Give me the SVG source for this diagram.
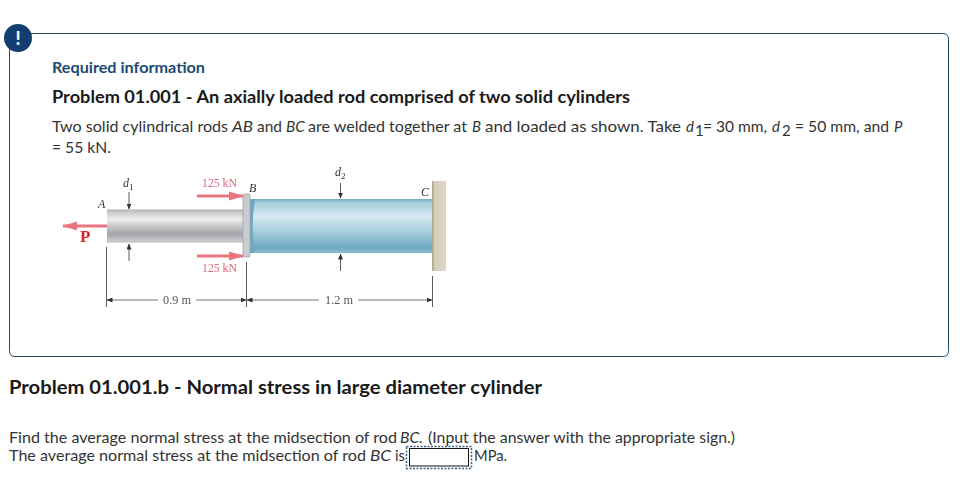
<svg xmlns="http://www.w3.org/2000/svg" width="968" height="488" viewBox="0 0 968 488">
<style>
.s{font-family:Lato,"Open Sans","Liberation Sans",sans-serif}
.h{font-weight:700;fill:#1a1a1a}
.b{font-family:Lato,"Open Sans","Liberation Sans",sans-serif;font-size:15px;fill:#333}
.i{font-style:italic}
.f{font-family:"Liberation Serif",serif;font-size:12px;fill:#555}
.p{font-family:"Liberation Serif",serif;font-size:12px;fill:#d9657c}
.l{font-family:"Liberation Serif",serif;font-style:italic;font-size:12px;fill:#333}
.d{stroke:#333;stroke-width:.8;fill:none}
.dg{stroke:#666;stroke-width:.9;fill:none}
</style>
<defs>
<filter id="soft" x="-5%" y="-5%" width="110%" height="110%"><feGaussianBlur stdDeviation=".35"/></filter>
<linearGradient id="g1" x1="0" y1="0" x2="0" y2="1">
<stop offset="0" stop-color="#aeb0b2"/><stop offset=".08" stop-color="#c8cacc"/><stop offset=".3" stop-color="#ecedee"/><stop offset=".55" stop-color="#bfc1c3"/><stop offset=".75" stop-color="#a4a6a9"/><stop offset=".95" stop-color="#c8cacc"/><stop offset="1" stop-color="#b4b6b8"/>
</linearGradient>
<linearGradient id="g2" x1="0" y1="0" x2="0" y2="1">
<stop offset="0" stop-color="#76a9c0"/><stop offset=".07" stop-color="#a8cede"/><stop offset=".32" stop-color="#d6e8f0"/><stop offset=".6" stop-color="#a9cedd"/><stop offset=".9" stop-color="#6ea8c1"/><stop offset="1" stop-color="#8fbdd1"/>
</linearGradient>
<linearGradient id="g3" x1="0" y1="0" x2="1" y2="0">
<stop offset="0" stop-color="#a9a28c"/><stop offset=".2" stop-color="#d6cfbb"/><stop offset="1" stop-color="#dcd6c5"/>
</linearGradient>
<marker id="k" markerWidth="6" markerHeight="5" refX="5.500" refY="2.500" orient="auto-start-reverse" markerUnits="userSpaceOnUse"><path d="M0 0L6 2.500L0 5Z" fill="#333"/></marker>
<marker id="r" markerWidth="15" markerHeight="10" refX="14" refY="5" orient="auto" markerUnits="userSpaceOnUse"><path d="M0 .5L15 5L0 9.500Z" fill="#ea7480"/></marker>
</defs>
<rect width="968" height="488" fill="#fff"/>
<g id="panel">
<rect x="9.500" y="33.500" width="939" height="323" rx="5" fill="#fff" stroke="#1f4a70" stroke-width="1"/>
<circle cx="18" cy="38" r="14" fill="#123f70"/>
<text class="s" x="18" y="44.500" text-anchor="middle" font-size="18" font-weight="900" fill="#fff">!</text>
</g>
<g id="heading">
<text class="s" x="52" y="73" font-size="15" font-weight="700" fill="#1c4a73" textLength="153" lengthAdjust="spacingAndGlyphs">Required information</text>
<text class="s h" x="52" y="103" font-size="16.500" textLength="578" lengthAdjust="spacingAndGlyphs">Problem 01.001 - An axially loaded rod comprised of two solid cylinders</text>
<text class="b" x="52" y="132" textLength="176" lengthAdjust="spacingAndGlyphs">Two solid cylindrical rods</text>
<text class="b i" x="232" y="132" textLength="21" lengthAdjust="spacingAndGlyphs">AB</text>
<text class="b" x="257" y="132" textLength="25" lengthAdjust="spacingAndGlyphs">and</text>
<text class="b i" x="286" y="132" textLength="19" lengthAdjust="spacingAndGlyphs">BC</text>
<text class="b" x="308" y="132" textLength="159" lengthAdjust="spacingAndGlyphs">are welded together at</text>
<text class="b i" x="472" y="132" textLength="9" lengthAdjust="spacingAndGlyphs">B</text>
<text class="b" x="485" y="132" textLength="196" lengthAdjust="spacingAndGlyphs">and loaded as shown. Take</text>
<text class="b i" x="686" y="132" font-size="16">d</text>
<text class="b" x="695" y="136">1</text>
<text class="b" x="703" y="132" textLength="64" lengthAdjust="spacingAndGlyphs">= 30 mm,</text>
<text class="b i" x="772" y="132" font-size="16">d</text>
<text class="b" x="782" y="136">2</text>
<text class="b" x="795" y="132" textLength="94" lengthAdjust="spacingAndGlyphs">= 50 mm, and</text>
<text class="b i" x="894" y="132">P</text>
<text class="b" x="52" y="153" textLength="59" lengthAdjust="spacingAndGlyphs">= 55 kN.</text>
</g>
<g filter="url(#soft)">
<g id="rod-ab"><rect x="107" y="209.500" width="136" height="33" fill="url(#g1)"/></g>
<g id="rod-bc">
<rect x="250" y="199" width="182" height="54" fill="url(#g2)"/>
<path d="M250 199V253H255Q250.500 226 255 199Z" fill="#6ea8c1"/>
</g>
<g id="flange"><rect x="243" y="194" width="7" height="63" rx="1" fill="#c9cdcf" stroke="#a0a5a8" stroke-width=".8"/></g>
<g id="wall"><rect x="432" y="181" width="14" height="90" fill="url(#g3)"/></g>
<g id="connectors">
<path d="M107 226H63" stroke="#ea7480" stroke-width="3" marker-end="url(#r)"/>
<path d="M197 196H243" stroke="#ea7480" stroke-width="3" marker-end="url(#r)"/>
<path d="M197 256H243" stroke="#ea7480" stroke-width="3" marker-end="url(#r)"/>
<path class="d" d="M129 192V209" marker-end="url(#k)"/>
<path class="d" d="M129 261V244" marker-end="url(#k)"/>
<path class="d" d="M340.500 183V198" marker-end="url(#k)"/>
<path class="d" d="M340.500 271V254" marker-end="url(#k)"/>
<path class="d" d="M106.500 247V307M246.500 262V307M432.500 276V307"/>
<path class="dg" d="M107 300H158" marker-start="url(#k)"/>
<path class="dg" d="M196 300H246" marker-end="url(#k)"/>
<path class="dg" d="M247 300H319" marker-start="url(#k)"/>
<path class="dg" d="M358 300H432" marker-end="url(#k)"/>
</g>
<g id="labels">
<text class="l" x="123" y="187" font-size="14">d<tspan dy="2.500" font-size="9" font-style="normal">1</tspan></text>
<text class="l" x="335" y="176" font-size="14">d<tspan dy="2.500" font-size="9" font-style="normal">2</tspan></text>
<text class="l" x="98" y="208">A</text>
<text class="l" x="249" y="192">B</text>
<text class="l" x="421" y="196">C</text>
<text x="80" y="242" font-family="Liberation Serif,serif" font-weight="700" font-size="17" fill="#d8232f">P</text>
<text class="p" x="202" y="187" textLength="35" lengthAdjust="spacingAndGlyphs">125 kN</text>
<text class="p" x="202" y="272" textLength="35" lengthAdjust="spacingAndGlyphs">125 kN</text>
<text class="f" x="163" y="303.500" textLength="28" lengthAdjust="spacingAndGlyphs">0.9 m</text>
<text class="f" x="325" y="303.500" textLength="28" lengthAdjust="spacingAndGlyphs">1.2 m</text>
</g>
</g>
<g id="question">
<text class="s h" x="9" y="394" font-size="18.500" textLength="533" lengthAdjust="spacingAndGlyphs">Problem 01.001.b - Normal stress in large diameter cylinder</text>
<text class="b" x="9" y="443" textLength="388" lengthAdjust="spacingAndGlyphs">Find the average normal stress at the midsection of rod</text>
<text class="b i" x="400" y="443" textLength="23" lengthAdjust="spacingAndGlyphs">BC.</text>
<text class="b" x="428" y="443" textLength="307" lengthAdjust="spacingAndGlyphs">(Input the answer with the appropriate sign.)</text>
<text class="b" x="9" y="461" textLength="357" lengthAdjust="spacingAndGlyphs">The average normal stress at the midsection of rod</text>
<text class="b i" x="370" y="461" textLength="21" lengthAdjust="spacingAndGlyphs">BC</text>
<text class="b" x="395" y="461" textLength="10" lengthAdjust="spacingAndGlyphs">is</text>
<rect x="406.500" y="446.500" width="65" height="22" fill="none" stroke="#3b6186" stroke-width="1.500" stroke-dasharray="2 1.500"/>
<rect x="409.500" y="448.500" width="59" height="17.500" fill="#fff" stroke="#111" stroke-width="1"/>
<text class="b" x="474" y="461" textLength="33" lengthAdjust="spacingAndGlyphs">MPa.</text>
</g>
</svg>
